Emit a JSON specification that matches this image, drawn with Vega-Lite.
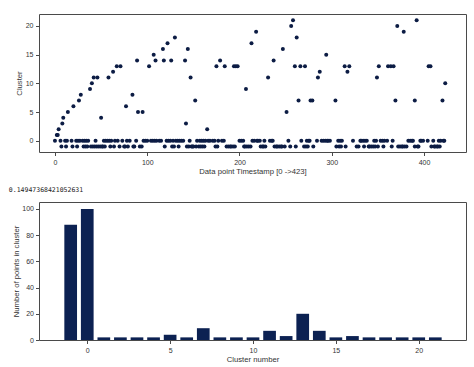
{
  "$schema": "https://vega.github.io/schema/vega-lite/v6.json",
  "padding": {"left": 8, "top": 13, "right": 8, "bottom": 0},
  "spacing": 10,
  "config": {
    "view": {"stroke": "#4a4a4a", "strokeWidth": 1},
    "axis": {
      "domain": false, "grid": false, "tickColor": "#4a4a4a", "tickSize": 3.5, "tickWidth": 1,
      "labelFont": "Liberation Sans", "labelFontSize": 7, "labelColor": "#333333",
      "titleFont": "Liberation Sans", "titleFontSize": 7.7, "titleFontWeight": "normal", "titleColor": "#333333",
      "labelPadding": 2.5, "titlePadding": 2
    }
  },
  "datasets": {
    "scatter": [
      {"t": 2, "c": 1}, {"t": 3, "c": 1}, {"t": 4, "c": 2}, {"t": 8, "c": 3}, {"t": 9, "c": 4},
      {"t": 14, "c": 5}, {"t": 20, "c": 6}, {"t": 26, "c": 7}, {"t": 28, "c": 8}, {"t": 38, "c": 9},
      {"t": 40, "c": 10}, {"t": 42, "c": 11}, {"t": 46, "c": 11}, {"t": 50, "c": 4}, {"t": 58, "c": 11},
      {"t": 63, "c": 12}, {"t": 67, "c": 13}, {"t": 71, "c": 13}, {"t": 77, "c": 6}, {"t": 84, "c": 8},
      {"t": 89, "c": 14}, {"t": 90, "c": 5}, {"t": 95, "c": 5}, {"t": 102, "c": 13}, {"t": 107, "c": 15},
      {"t": 109, "c": 14}, {"t": 117, "c": 16}, {"t": 118, "c": 14}, {"t": 122, "c": 17}, {"t": 126, "c": 14},
      {"t": 130, "c": 18}, {"t": 141, "c": 14}, {"t": 142, "c": 3}, {"t": 144, "c": 16}, {"t": 147, "c": 11},
      {"t": 152, "c": 7}, {"t": 165, "c": 2}, {"t": 175, "c": 13}, {"t": 179, "c": 14}, {"t": 184, "c": 13},
      {"t": 194, "c": 13}, {"t": 196, "c": 13}, {"t": 198, "c": 13}, {"t": 207, "c": 9}, {"t": 213, "c": 17},
      {"t": 218, "c": 19}, {"t": 231, "c": 11}, {"t": 237, "c": 14}, {"t": 247, "c": 16}, {"t": 251, "c": 5},
      {"t": 256, "c": 20}, {"t": 258, "c": 21}, {"t": 260, "c": 13}, {"t": 262, "c": 18}, {"t": 264, "c": 7},
      {"t": 266, "c": 13}, {"t": 271, "c": 13}, {"t": 277, "c": 7}, {"t": 279, "c": 7}, {"t": 285, "c": 11},
      {"t": 287, "c": 12}, {"t": 294, "c": 15}, {"t": 304, "c": 7}, {"t": 314, "c": 13}, {"t": 317, "c": 12},
      {"t": 319, "c": 13}, {"t": 349, "c": 11}, {"t": 351, "c": 13}, {"t": 361, "c": 13}, {"t": 364, "c": 13},
      {"t": 367, "c": 13}, {"t": 369, "c": 7}, {"t": 371, "c": 20}, {"t": 378, "c": 19}, {"t": 390, "c": 7},
      {"t": 392, "c": 21}, {"t": 405, "c": 13}, {"t": 407, "c": 13}, {"t": 420, "c": 7}, {"t": 423, "c": 10},
      {"t": 0, "c": 0}, {"t": 6, "c": 0}, {"t": 11, "c": 0}, {"t": 13, "c": 0}, {"t": 18, "c": 0},
      {"t": 23, "c": 0}, {"t": 25, "c": 0}, {"t": 27, "c": 0}, {"t": 30, "c": 0}, {"t": 32, "c": 0},
      {"t": 34, "c": 0}, {"t": 36, "c": 0}, {"t": 44, "c": 0}, {"t": 53, "c": 0}, {"t": 55, "c": 0},
      {"t": 57, "c": 0}, {"t": 59, "c": 0}, {"t": 61, "c": 0}, {"t": 65, "c": 0}, {"t": 68, "c": 0},
      {"t": 73, "c": 0}, {"t": 78, "c": 0}, {"t": 81, "c": 0}, {"t": 88, "c": 0}, {"t": 96, "c": 0},
      {"t": 98, "c": 0}, {"t": 100, "c": 0}, {"t": 104, "c": 0}, {"t": 106, "c": 0}, {"t": 108, "c": 0},
      {"t": 110, "c": 0}, {"t": 113, "c": 0}, {"t": 115, "c": 0}, {"t": 121, "c": 0}, {"t": 123, "c": 0},
      {"t": 125, "c": 0}, {"t": 128, "c": 0}, {"t": 131, "c": 0}, {"t": 133, "c": 0}, {"t": 135, "c": 0},
      {"t": 137, "c": 0}, {"t": 139, "c": 0}, {"t": 146, "c": 0}, {"t": 154, "c": 0}, {"t": 157, "c": 0},
      {"t": 159, "c": 0}, {"t": 161, "c": 0}, {"t": 163, "c": 0}, {"t": 166, "c": 0}, {"t": 168, "c": 0},
      {"t": 171, "c": 0}, {"t": 173, "c": 0}, {"t": 177, "c": 0}, {"t": 181, "c": 0}, {"t": 183, "c": 0},
      {"t": 200, "c": 0}, {"t": 202, "c": 0}, {"t": 204, "c": 0}, {"t": 214, "c": 0}, {"t": 216, "c": 0},
      {"t": 219, "c": 0}, {"t": 220, "c": 0}, {"t": 222, "c": 0}, {"t": 227, "c": 0}, {"t": 233, "c": 0},
      {"t": 235, "c": 0}, {"t": 236, "c": 0}, {"t": 253, "c": 0}, {"t": 267, "c": 0}, {"t": 273, "c": 0},
      {"t": 275, "c": 0}, {"t": 276, "c": 0}, {"t": 284, "c": 0}, {"t": 289, "c": 0}, {"t": 291, "c": 0},
      {"t": 293, "c": 0}, {"t": 295, "c": 0}, {"t": 296, "c": 0}, {"t": 298, "c": 0}, {"t": 307, "c": 0},
      {"t": 309, "c": 0}, {"t": 311, "c": 0}, {"t": 323, "c": 0}, {"t": 331, "c": 0}, {"t": 332, "c": 0},
      {"t": 334, "c": 0}, {"t": 336, "c": 0}, {"t": 338, "c": 0}, {"t": 346, "c": 0}, {"t": 348, "c": 0},
      {"t": 353, "c": 0}, {"t": 355, "c": 0}, {"t": 357, "c": 0}, {"t": 360, "c": 0}, {"t": 366, "c": 0},
      {"t": 383, "c": 0}, {"t": 385, "c": 0}, {"t": 387, "c": 0}, {"t": 388, "c": 0}, {"t": 396, "c": 0},
      {"t": 397, "c": 0}, {"t": 399, "c": 0}, {"t": 404, "c": 0}, {"t": 410, "c": 0}, {"t": 416, "c": 0},
      {"t": 418, "c": 0}, {"t": 421, "c": 0}, {"t": 422, "c": 0},
      {"t": 7, "c": -1}, {"t": 12, "c": -1}, {"t": 19, "c": -1}, {"t": 24, "c": -1}, {"t": 31, "c": -1},
      {"t": 33, "c": -1}, {"t": 35, "c": -1}, {"t": 39, "c": -1}, {"t": 41, "c": -1}, {"t": 43, "c": -1},
      {"t": 45, "c": -1}, {"t": 47, "c": -1}, {"t": 49, "c": -1}, {"t": 51, "c": -1}, {"t": 52, "c": -1},
      {"t": 54, "c": -1}, {"t": 60, "c": -1}, {"t": 64, "c": -1}, {"t": 70, "c": -1}, {"t": 75, "c": -1},
      {"t": 76, "c": -1}, {"t": 79, "c": -1}, {"t": 85, "c": -1}, {"t": 86, "c": -1}, {"t": 92, "c": -1},
      {"t": 94, "c": -1}, {"t": 119, "c": -1}, {"t": 127, "c": -1}, {"t": 129, "c": -1}, {"t": 134, "c": -1},
      {"t": 143, "c": -1}, {"t": 145, "c": -1}, {"t": 148, "c": -1}, {"t": 149, "c": -1}, {"t": 150, "c": -1},
      {"t": 153, "c": -1}, {"t": 156, "c": -1}, {"t": 158, "c": -1}, {"t": 160, "c": -1}, {"t": 162, "c": -1},
      {"t": 174, "c": -1}, {"t": 176, "c": -1}, {"t": 186, "c": -1}, {"t": 188, "c": -1}, {"t": 190, "c": -1},
      {"t": 191, "c": -1}, {"t": 193, "c": -1}, {"t": 195, "c": -1}, {"t": 205, "c": -1}, {"t": 206, "c": -1},
      {"t": 208, "c": -1}, {"t": 210, "c": -1}, {"t": 212, "c": -1}, {"t": 223, "c": -1}, {"t": 225, "c": -1},
      {"t": 226, "c": -1}, {"t": 228, "c": -1}, {"t": 238, "c": -1}, {"t": 240, "c": -1}, {"t": 241, "c": -1},
      {"t": 243, "c": -1}, {"t": 245, "c": -1}, {"t": 246, "c": -1}, {"t": 249, "c": -1}, {"t": 255, "c": -1},
      {"t": 261, "c": -1}, {"t": 270, "c": -1}, {"t": 272, "c": -1}, {"t": 274, "c": -1}, {"t": 280, "c": -1},
      {"t": 305, "c": -1}, {"t": 308, "c": -1}, {"t": 310, "c": -1}, {"t": 315, "c": -1}, {"t": 327, "c": -1},
      {"t": 329, "c": -1}, {"t": 335, "c": -1}, {"t": 340, "c": -1}, {"t": 341, "c": -1}, {"t": 343, "c": -1},
      {"t": 345, "c": -1}, {"t": 347, "c": -1}, {"t": 350, "c": -1}, {"t": 356, "c": -1}, {"t": 365, "c": -1},
      {"t": 372, "c": -1}, {"t": 374, "c": -1}, {"t": 376, "c": -1}, {"t": 377, "c": -1}, {"t": 379, "c": -1},
      {"t": 381, "c": -1}, {"t": 390, "c": -1}, {"t": 393, "c": -1}, {"t": 394, "c": -1}, {"t": 408, "c": -1},
      {"t": 411, "c": -1}, {"t": 412, "c": -1}, {"t": 414, "c": -1}, {"t": 415, "c": -1}, {"t": 417, "c": -1}
    ],
    "bars": [
      {"cluster": -1, "n": 88}, {"cluster": 0, "n": 100}, {"cluster": 1, "n": 2}, {"cluster": 2, "n": 2},
      {"cluster": 3, "n": 2}, {"cluster": 4, "n": 2}, {"cluster": 5, "n": 4}, {"cluster": 6, "n": 2},
      {"cluster": 7, "n": 9}, {"cluster": 8, "n": 2}, {"cluster": 9, "n": 2}, {"cluster": 10, "n": 2},
      {"cluster": 11, "n": 7}, {"cluster": 12, "n": 3}, {"cluster": 13, "n": 20}, {"cluster": 14, "n": 7},
      {"cluster": 15, "n": 2}, {"cluster": 16, "n": 3}, {"cluster": 17, "n": 2}, {"cluster": 18, "n": 2},
      {"cluster": 19, "n": 2}, {"cluster": 20, "n": 2}, {"cluster": 21, "n": 2}
    ]
  },
  "vconcat": [
    {
      "width": 427,
      "height": 138,
      "data": {"name": "scatter"},
      "mark": {"type": "point", "shape": "circle", "filled": true, "size": 16, "opacity": 1, "color": "#0c1c44"},
      "encoding": {
        "x": {"field": "t", "type": "quantitative", "scale": {"domain": [-17.3, 445.5], "nice": false, "zero": false},
              "axis": {"values": [0, 100, 200, 300, 400], "title": "Data point Timestamp [0 ->423]"}},
        "y": {"field": "c", "type": "quantitative", "scale": {"domain": [-1.97, 22.09], "nice": false, "zero": false},
              "axis": {"values": [0, 5, 10, 15, 20], "title": "Cluster"}}
      }
    },
    {
      "width": 427,
      "height": 138,
      "title": {"text": "0.14947368421052631", "anchor": "start", "frame": "bounds", "font": "DejaVu Sans Mono",
                "fontSize": 6.5, "fontWeight": "normal", "color": "#222222", "offset": 9, "dx": -4},
      "data": {"name": "bars"},
      "mark": {"type": "bar", "width": 12.7, "color": "#0c2152"},
      "encoding": {
        "x": {"field": "cluster", "type": "quantitative", "scale": {"domain": [-2.61, 22.55], "nice": false, "zero": false},
              "axis": {"values": [0, 5, 10, 15, 20], "title": "Cluster number"}},
        "y": {"field": "n", "type": "quantitative", "scale": {"domain": [0, 105.3], "nice": false},
              "axis": {"values": [0, 20, 40, 60, 80, 100], "title": "Number of points in cluster", "labelPadding": 2, "titlePadding": 1}}
      }
    }
  ]
}
